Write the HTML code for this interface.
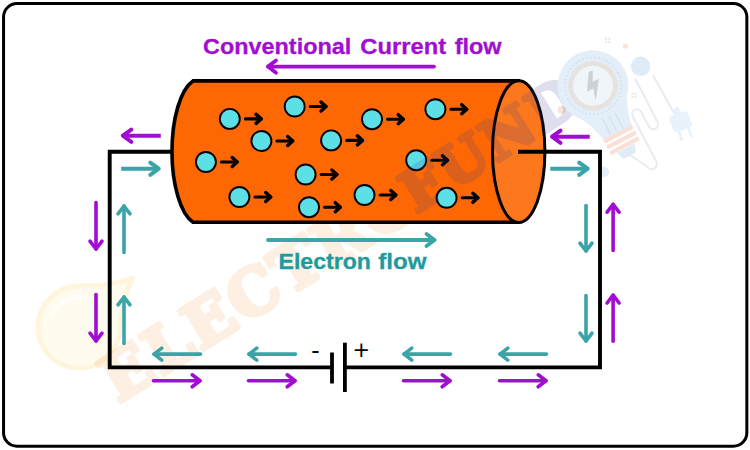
<!DOCTYPE html>
<html><head><meta charset="utf-8"><title>Conventional Current flow vs Electron flow</title>
<style>
html,body{margin:0;padding:0;background:#fff;}
body{width:750px;height:450px;overflow:hidden;position:relative;font-family:"Liberation Sans",sans-serif;}
svg{position:absolute;left:0;top:0;display:block;}
</style></head><body>
<svg width="750" height="450" viewBox="0 0 750 450">
<rect x="0" y="0" width="750" height="450" fill="#fff"/>
<rect x="3.55" y="3.5" width="743.3" height="442.7" rx="13.5" ry="13.5" fill="none" stroke="#000" stroke-width="3"/>
<g transform="translate(593.0,85.8) rotate(-27.7)"><path d="M-27 22 C-20 34 -17 44 -16 54 L16 54 C17 44 20 34 27 22 Z" fill="#E3EEF8"/><circle cx="0" cy="0" r="35.5" fill="#E3EEF8"/><circle cx="0" cy="0" r="28.3" fill="none" stroke="#CFE0EF" stroke-width="1.6" stroke-dasharray="1.6 2.4"/><circle cx="0" cy="0" r="22.3" fill="#F0F5FA" stroke="#E6E3DE" stroke-width="4.8"/><path d="M2.5 -14 L-8 2.5 L-1 2.5 L-4.5 14.5 L8.5 -3.5 L1.5 -3.5 L7 -14 Z" fill="#CDD0D4"/><path d="M-7 34 V52 M0 34 V52 M7 34 V52" stroke="#D6E4F1" stroke-width="1.6" fill="none"/><rect x="-16.5" y="52.5" width="33" height="4.4" rx="2.2" fill="#FAE0D7"/><rect x="-16.5" y="59" width="33" height="4.4" rx="2.2" fill="#FAE0D7"/><rect x="-16.5" y="65.5" width="33" height="4.4" rx="2.2" fill="#FAE0D7"/><path d="M-10 70.5 H10 L7 79 H-7 Z" fill="#DFEBF6"/></g>
<circle cx="640.7" cy="66.3" r="9.7" fill="#DFEBF6"/>
<path d="M79 286 A41 41 0 1 0 120 327 C121 308 126 292 133 278 C118 283 100 286 79 286Z" fill="#FFFBEE" stroke="#FFF5DC" stroke-width="5" stroke-linejoin="round"/>
<path d="M52 316 A30 30 0 0 1 84 298" fill="none" stroke="#FFFFFF" stroke-width="3" stroke-linecap="round" opacity="0.8"/>
<path d="M675 115 L653.4 76 M635.4 78.9 L657.7 122.3 A4.8 4.8 0 0 1 649 126.5 L641.2 112.1 A4.6 4.6 0 0 0 632.5 115.9 L656.2 161.3 A5 5 0 0 1 647 166.5 L630.8 155.5" fill="none" stroke="#E9ECF1" stroke-width="2.1" stroke-linecap="round" stroke-linejoin="round"/>
<g transform="translate(681.5,124) rotate(-20)"><rect x="-10" y="-11" width="20" height="17" rx="4" fill="#E8F2FB"/><rect x="-6.5" y="5" width="2.6" height="11" fill="#E8F2FB"/><rect x="3.9" y="5" width="2.6" height="11" fill="#E8F2FB"/><rect x="-3" y="-17" width="6" height="7" fill="#E8F1F9"/></g>
<circle cx="625.5" cy="46" r="2.6" fill="#FBE3DA"/><circle cx="561.5" cy="110" r="4" fill="#FBE3DA"/><circle cx="604" cy="172" r="5" fill="#E3EEF8"/>
<g fill="#D9DEE4"><rect x="605.5" y="38" width="1.6" height="1.6"/><rect x="608.7" y="38" width="1.6" height="1.6"/><rect x="605.5" y="41.2" width="1.6" height="1.6"/><rect x="608.7" y="41.2" width="1.6" height="1.6"/><rect x="631.5" y="93" width="1.6" height="1.6"/><rect x="634.7" y="93" width="1.6" height="1.6"/><rect x="631.5" y="96.2" width="1.6" height="1.6"/><rect x="634.7" y="96.2" width="1.6" height="1.6"/></g>
<g transform="translate(118.5,403.5) rotate(-32.2)" font-family="DejaVu Serif, Liberation Serif, serif" font-weight="700" font-size="63" stroke-width="4.6" stroke-linejoin="round"><text x="0" y="0" textLength="360" lengthAdjust="spacing" fill="#F3820B" stroke="#F3820B" opacity="0.115">ELECTRO</text></g>
<path d="M193 80.9 L518 80.9 L518 222.3 L193 222.3 A28 73 0 0 1 193 80.9Z" fill="#FD6805" stroke="#000" stroke-width="3.6"/>
<ellipse cx="518.7" cy="151.6" rx="26.2" ry="70.8" fill="#FD771E" stroke="#000" stroke-width="3"/>
<path d="M172 151.7 L109.7 151.7 L109.7 367.4 L331 367.4" fill="none" stroke="#000" stroke-width="3.9"/>
<path d="M518 151.7 L600 151.7 L600 367.4 L345 367.4" fill="none" stroke="#000" stroke-width="3.9"/>
<rect x="330.1" y="352.5" width="3.8" height="31" fill="#000"/>
<rect x="343" y="342.7" width="3.8" height="49.3" fill="#000"/>
<text x="315.3" y="359" text-anchor="middle" font-family="Liberation Sans, sans-serif" font-size="25" fill="#000">-</text>
<text x="361.4" y="356.9" text-anchor="middle" font-family="DejaVu Sans, Liberation Sans, sans-serif" font-size="21" fill="#000">+</text>
<circle cx="229.8" cy="118.9" r="10" fill="#5CE0E6" stroke="#000" stroke-width="1.9"/>
<path d="M245.4 118.9L261.1 118.9"  stroke="#000" stroke-width="3.1" fill="none" stroke-linecap="round"/><path d="M256.1 123.4L261.1 118.9L256.1 114.4" stroke="#000" stroke-width="3.5" fill="none" stroke-linecap="round" stroke-linejoin="round"/>
<circle cx="294.7" cy="106.5" r="10" fill="#5CE0E6" stroke="#000" stroke-width="1.9"/>
<path d="M310.3 106.5L326.0 106.5"  stroke="#000" stroke-width="3.1" fill="none" stroke-linecap="round"/><path d="M321.0 111.0L326.0 106.5L321.0 102.0" stroke="#000" stroke-width="3.5" fill="none" stroke-linecap="round" stroke-linejoin="round"/>
<circle cx="261.4" cy="141" r="10" fill="#5CE0E6" stroke="#000" stroke-width="1.9"/>
<path d="M277.0 141.0L292.7 141.0"  stroke="#000" stroke-width="3.1" fill="none" stroke-linecap="round"/><path d="M287.7 145.5L292.7 141.0L287.7 136.5" stroke="#000" stroke-width="3.5" fill="none" stroke-linecap="round" stroke-linejoin="round"/>
<circle cx="331.1" cy="140.4" r="10" fill="#5CE0E6" stroke="#000" stroke-width="1.9"/>
<path d="M346.7 140.4L362.4 140.4"  stroke="#000" stroke-width="3.1" fill="none" stroke-linecap="round"/><path d="M357.4 144.9L362.4 140.4L357.4 135.9" stroke="#000" stroke-width="3.5" fill="none" stroke-linecap="round" stroke-linejoin="round"/>
<circle cx="205.9" cy="162.0" r="10" fill="#5CE0E6" stroke="#000" stroke-width="1.9"/>
<path d="M221.5 162.0L237.2 162.0"  stroke="#000" stroke-width="3.1" fill="none" stroke-linecap="round"/><path d="M232.2 166.5L237.2 162.0L232.2 157.5" stroke="#000" stroke-width="3.5" fill="none" stroke-linecap="round" stroke-linejoin="round"/>
<circle cx="305.6" cy="174.5" r="10" fill="#5CE0E6" stroke="#000" stroke-width="1.9"/>
<path d="M321.2 174.5L336.9 174.5"  stroke="#000" stroke-width="3.1" fill="none" stroke-linecap="round"/><path d="M331.9 179.0L336.9 174.5L331.9 170.0" stroke="#000" stroke-width="3.5" fill="none" stroke-linecap="round" stroke-linejoin="round"/>
<circle cx="239.4" cy="197.0" r="10" fill="#5CE0E6" stroke="#000" stroke-width="1.9"/>
<path d="M255.0 197.0L270.7 197.0"  stroke="#000" stroke-width="3.1" fill="none" stroke-linecap="round"/><path d="M265.7 201.5L270.7 197.0L265.7 192.5" stroke="#000" stroke-width="3.5" fill="none" stroke-linecap="round" stroke-linejoin="round"/>
<circle cx="309" cy="207.2" r="10" fill="#5CE0E6" stroke="#000" stroke-width="1.9"/>
<path d="M324.6 207.2L340.3 207.2"  stroke="#000" stroke-width="3.1" fill="none" stroke-linecap="round"/><path d="M335.3 211.7L340.3 207.2L335.3 202.7" stroke="#000" stroke-width="3.5" fill="none" stroke-linecap="round" stroke-linejoin="round"/>
<circle cx="372" cy="119.2" r="10" fill="#5CE0E6" stroke="#000" stroke-width="1.9"/>
<path d="M387.6 119.2L403.3 119.2"  stroke="#000" stroke-width="3.1" fill="none" stroke-linecap="round"/><path d="M398.3 123.7L403.3 119.2L398.3 114.7" stroke="#000" stroke-width="3.5" fill="none" stroke-linecap="round" stroke-linejoin="round"/>
<circle cx="435.4" cy="109.2" r="10" fill="#5CE0E6" stroke="#000" stroke-width="1.9"/>
<path d="M451.0 109.2L466.7 109.2"  stroke="#000" stroke-width="3.1" fill="none" stroke-linecap="round"/><path d="M461.7 113.7L466.7 109.2L461.7 104.7" stroke="#000" stroke-width="3.5" fill="none" stroke-linecap="round" stroke-linejoin="round"/>
<circle cx="416.2" cy="160.2" r="10" fill="#5CE0E6" stroke="#000" stroke-width="1.9"/>
<path d="M431.8 160.2L447.5 160.2"  stroke="#000" stroke-width="3.1" fill="none" stroke-linecap="round"/><path d="M442.5 164.7L447.5 160.2L442.5 155.7" stroke="#000" stroke-width="3.5" fill="none" stroke-linecap="round" stroke-linejoin="round"/>
<circle cx="364.5" cy="195.0" r="10" fill="#5CE0E6" stroke="#000" stroke-width="1.9"/>
<path d="M380.1 195.0L395.8 195.0"  stroke="#000" stroke-width="3.1" fill="none" stroke-linecap="round"/><path d="M390.8 199.5L395.8 195.0L390.8 190.5" stroke="#000" stroke-width="3.5" fill="none" stroke-linecap="round" stroke-linejoin="round"/>
<circle cx="446.6" cy="197.8" r="10" fill="#5CE0E6" stroke="#000" stroke-width="1.9"/>
<path d="M462.2 197.8L477.9 197.8"  stroke="#000" stroke-width="3.1" fill="none" stroke-linecap="round"/><path d="M472.9 202.3L477.9 197.8L472.9 193.3" stroke="#000" stroke-width="3.5" fill="none" stroke-linecap="round" stroke-linejoin="round"/>
<path d="M200.5 354.1L154.0 354.1"  stroke="#3AA4A7" stroke-width="3.6" fill="none" stroke-linecap="round"/><path d="M161.8 348.1L154.0 354.1L161.8 360.1" stroke="#3AA4A7" stroke-width="3.6" fill="none" stroke-linecap="round" stroke-linejoin="round"/>
<path d="M153.5 380.8L200.0 380.8"  stroke="#A20DD2" stroke-width="3.6" fill="none" stroke-linecap="round"/><path d="M192.2 386.8L200.0 380.8L192.2 374.8" stroke="#A20DD2" stroke-width="3.6" fill="none" stroke-linecap="round" stroke-linejoin="round"/>
<path d="M295.5 354.1L249.0 354.1"  stroke="#3AA4A7" stroke-width="3.6" fill="none" stroke-linecap="round"/><path d="M256.8 348.1L249.0 354.1L256.8 360.1" stroke="#3AA4A7" stroke-width="3.6" fill="none" stroke-linecap="round" stroke-linejoin="round"/>
<path d="M248.5 380.8L295.0 380.8"  stroke="#A20DD2" stroke-width="3.6" fill="none" stroke-linecap="round"/><path d="M287.2 386.8L295.0 380.8L287.2 374.8" stroke="#A20DD2" stroke-width="3.6" fill="none" stroke-linecap="round" stroke-linejoin="round"/>
<path d="M450.5 354.1L404.0 354.1"  stroke="#3AA4A7" stroke-width="3.6" fill="none" stroke-linecap="round"/><path d="M411.8 348.1L404.0 354.1L411.8 360.1" stroke="#3AA4A7" stroke-width="3.6" fill="none" stroke-linecap="round" stroke-linejoin="round"/>
<path d="M403.5 380.8L450.0 380.8"  stroke="#A20DD2" stroke-width="3.6" fill="none" stroke-linecap="round"/><path d="M442.2 386.8L450.0 380.8L442.2 374.8" stroke="#A20DD2" stroke-width="3.6" fill="none" stroke-linecap="round" stroke-linejoin="round"/>
<path d="M546.5 354.1L500.0 354.1"  stroke="#3AA4A7" stroke-width="3.6" fill="none" stroke-linecap="round"/><path d="M507.8 348.1L500.0 354.1L507.8 360.1" stroke="#3AA4A7" stroke-width="3.6" fill="none" stroke-linecap="round" stroke-linejoin="round"/>
<path d="M499.5 380.8L546.0 380.8"  stroke="#A20DD2" stroke-width="3.6" fill="none" stroke-linecap="round"/><path d="M538.2 386.8L546.0 380.8L538.2 374.8" stroke="#A20DD2" stroke-width="3.6" fill="none" stroke-linecap="round" stroke-linejoin="round"/>
<path d="M96.0 202.5L96.0 249.0"  stroke="#A20DD2" stroke-width="3.6" fill="none" stroke-linecap="round"/><path d="M90.0 241.2L96.0 249.0L102.0 241.2" stroke="#A20DD2" stroke-width="3.6" fill="none" stroke-linecap="round" stroke-linejoin="round"/>
<path d="M96.0 294.5L96.0 341.0"  stroke="#A20DD2" stroke-width="3.6" fill="none" stroke-linecap="round"/><path d="M90.0 333.2L96.0 341.0L102.0 333.2" stroke="#A20DD2" stroke-width="3.6" fill="none" stroke-linecap="round" stroke-linejoin="round"/>
<path d="M124.0 252.5L124.0 206.0"  stroke="#3AA4A7" stroke-width="3.6" fill="none" stroke-linecap="round"/><path d="M130.0 213.8L124.0 206.0L118.0 213.8" stroke="#3AA4A7" stroke-width="3.6" fill="none" stroke-linecap="round" stroke-linejoin="round"/>
<path d="M124.0 343.5L124.0 297.0"  stroke="#3AA4A7" stroke-width="3.6" fill="none" stroke-linecap="round"/><path d="M130.0 304.8L124.0 297.0L118.0 304.8" stroke="#3AA4A7" stroke-width="3.6" fill="none" stroke-linecap="round" stroke-linejoin="round"/>
<path d="M434.0 66.6L268.0 66.6"  stroke="#A20DD2" stroke-width="3.8" fill="none" stroke-linecap="round"/><path d="M276.0 60.5L268.0 66.6L276.0 72.7" stroke="#A20DD2" stroke-width="3.8" fill="none" stroke-linecap="round" stroke-linejoin="round"/>
<path d="M268.0 240.0L434.5 240.0"  stroke="#3AA4A7" stroke-width="3.8" fill="none" stroke-linecap="round"/><path d="M426.5 246.1L434.5 240.0L426.5 233.9" stroke="#3AA4A7" stroke-width="3.8" fill="none" stroke-linecap="round" stroke-linejoin="round"/>
<path d="M160.8 135.7L122.8 135.7"  stroke="#A20DD2" stroke-width="4" fill="none" stroke-linecap="butt"/><path d="M131.3 129.6L122.8 135.7L131.3 141.8" stroke="#A20DD2" stroke-width="4" fill="none" stroke-linecap="round" stroke-linejoin="round"/>
<path d="M121.2 168.7L158.8 168.7"  stroke="#3AA4A7" stroke-width="4" fill="none" stroke-linecap="butt"/><path d="M150.3 174.8L158.8 168.7L150.3 162.6" stroke="#3AA4A7" stroke-width="4" fill="none" stroke-linecap="round" stroke-linejoin="round"/>
<path d="M589.7 136.7L552.0 136.7"  stroke="#A20DD2" stroke-width="4" fill="none" stroke-linecap="butt"/><path d="M560.5 130.6L552.0 136.7L560.5 142.8" stroke="#A20DD2" stroke-width="4" fill="none" stroke-linecap="round" stroke-linejoin="round"/>
<path d="M550.3 168.7L587.7 168.7"  stroke="#3AA4A7" stroke-width="4" fill="none" stroke-linecap="butt"/><path d="M579.2 174.8L587.7 168.7L579.2 162.6" stroke="#3AA4A7" stroke-width="4" fill="none" stroke-linecap="round" stroke-linejoin="round"/>
<path d="M586.0 205.5L586.0 251.0"  stroke="#3AA4A7" stroke-width="3.6" fill="none" stroke-linecap="round"/><path d="M580.0 243.2L586.0 251.0L592.0 243.2" stroke="#3AA4A7" stroke-width="3.6" fill="none" stroke-linecap="round" stroke-linejoin="round"/>
<path d="M586.0 295.5L586.0 341.0"  stroke="#3AA4A7" stroke-width="3.6" fill="none" stroke-linecap="round"/><path d="M580.0 333.2L586.0 341.0L592.0 333.2" stroke="#3AA4A7" stroke-width="3.6" fill="none" stroke-linecap="round" stroke-linejoin="round"/>
<path d="M613.1 250.4L613.1 204.4"  stroke="#A20DD2" stroke-width="3.6" fill="none" stroke-linecap="round"/><path d="M619.1 212.2L613.1 204.4L607.1 212.2" stroke="#A20DD2" stroke-width="3.6" fill="none" stroke-linecap="round" stroke-linejoin="round"/>
<path d="M613.1 341.2L613.1 295.2"  stroke="#A20DD2" stroke-width="3.6" fill="none" stroke-linecap="round"/><path d="M619.1 303.0L613.1 295.2L607.1 303.0" stroke="#A20DD2" stroke-width="3.6" fill="none" stroke-linecap="round" stroke-linejoin="round"/>
<g font-family="Liberation Sans, sans-serif" font-weight="700" font-size="22">
<text x="203" y="53.8" textLength="148.3" lengthAdjust="spacingAndGlyphs" fill="#A20DD2" stroke="#A20DD2" stroke-width="0.3">Conventional</text>
<text x="360.3" y="53.8" textLength="85.8" lengthAdjust="spacingAndGlyphs" fill="#A20DD2" stroke="#A20DD2" stroke-width="0.3">Current</text>
<text x="454.7" y="53.8" textLength="46.9" lengthAdjust="spacingAndGlyphs" fill="#A20DD2" stroke="#A20DD2" stroke-width="0.3">flow</text>
<text x="278.5" y="268.5" textLength="92.5" lengthAdjust="spacingAndGlyphs" fill="#1F9B9E" stroke="#1F9B9E" stroke-width="0.3">Electron</text>
<text x="378.2" y="268.5" textLength="48.2" lengthAdjust="spacingAndGlyphs" fill="#1F9B9E" stroke="#1F9B9E" stroke-width="0.3">flow</text>
</g>
<clipPath id="wmclip"><path clip-rule="evenodd" d="M0 0H750V450H0Z M557.5 85.8a35.5 35.5 0 1 0 71 0a35.5 35.5 0 1 0 -71 0Z"/></clipPath>
<g clip-path="url(#wmclip)"><g transform="translate(118.5,403.5) rotate(-32.2)" font-family="DejaVu Serif, Liberation Serif, serif" font-weight="700" font-size="63" stroke-width="4.6" stroke-linejoin="round"><text x="353" y="-2" font-size="56" stroke-width="4.2" textLength="198" lengthAdjust="spacing" fill="#3C3C8C" stroke="#3C3C8C" opacity="0.17">FUND</text></g></g>
</svg>
</body></html>
